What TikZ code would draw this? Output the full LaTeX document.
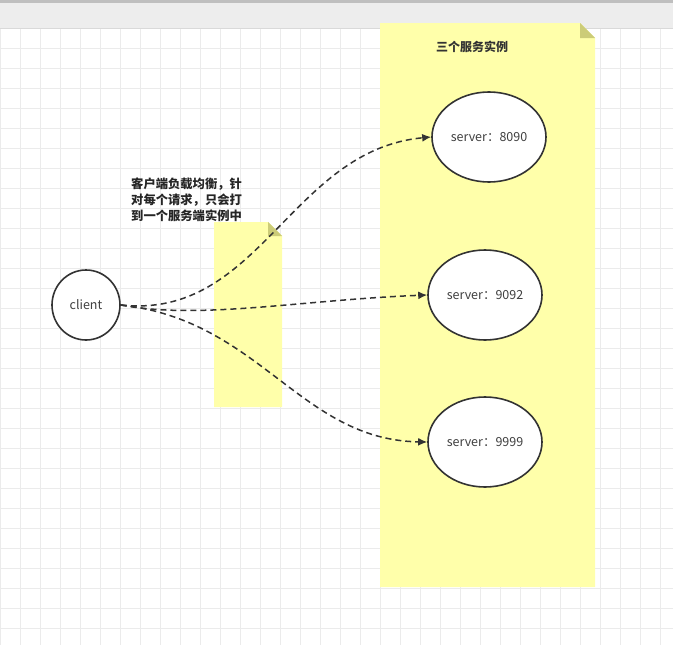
\documentclass[tikz,border=0pt]{standalone}
\usepackage{fontspec}
\setmainfont{Noto Sans CJK SC}
\usetikzlibrary{arrows.meta,shapes.geometric}
\definecolor{noteY}{RGB}{255,255,170}
\definecolor{foldY}{RGB}{204,204,120}
\begin{document}
\begin{tikzpicture}[x=1pt,y=-1pt,
  ell/.style={draw=black!80,line width=1.6pt,fill=white,ellipse,inner sep=0pt,minimum width=114pt,minimum height=90pt,font=\fontsize{12.5}{14}\selectfont,text=black!75},
  conn/.style={draw=black!80,line width=1.5pt,dash pattern=on 6pt off 4pt,-{Latex[length=9pt,width=8pt]}},
  note/.style={fill=noteY,draw=none}]
\useasboundingbox (0,0) rectangle (673,645);
\fill[white] (0,0) rectangle (673,645);
\foreach \x in {0,20,...,660} \draw[black!8] (\x,28) -- (\x,645);
\foreach \y in {28,48,...,645} \draw[black!8] (0,\y) -- (673,\y);
\fill[black!7] (0,0) rectangle (673,28);
\draw[black!15] (0,28) -- (673,28);
\fill[black!25] (0,0) rectangle (673,3);
% big note
\fill[note] (380,23) -- (580,23) -- (595,38) -- (595,587) -- (380,587) -- cycle;
\fill[foldY] (580,23) -- (595,38) -- (580,38) -- cycle;
\node[font=\bfseries\fontsize{12}{14}\selectfont,text=black!80] (t1) at (472,47) {三个服务实例};
% small note
\fill[note] (214,222) -- (268,222) -- (282,236) -- (282,407) -- (214,407) -- cycle;
\fill[foldY] (268,222) -- (282,236) -- (268,236) -- cycle;
\node[font=\bfseries\fontsize{12.3}{16}\selectfont,text=black!85,align=left,anchor=north west,inner sep=0pt] (t2) at (131,178) {客户端负载均衡，针\\对每个请求，只会打\\到一个服务端实例中};
\node[ell] (s1) at (489,137) {server：8090};
\node[ell] (s2) at (485,295) {server：9092};
\node[ell] (s3) at (485,442) {server：9999};
\node[ell,minimum width=68pt,minimum height=70pt] (c) at (86,305) {client};
\draw[conn] (c.east) .. controls (260,320) and (290,150) .. (s1.west);
\draw[conn] (c.east) .. controls (200,320) and (300,300) .. (s2.west);
\draw[conn] (c.east) .. controls (260,320) and (300,440) .. (s3.west);
\end{tikzpicture}
\end{document}
